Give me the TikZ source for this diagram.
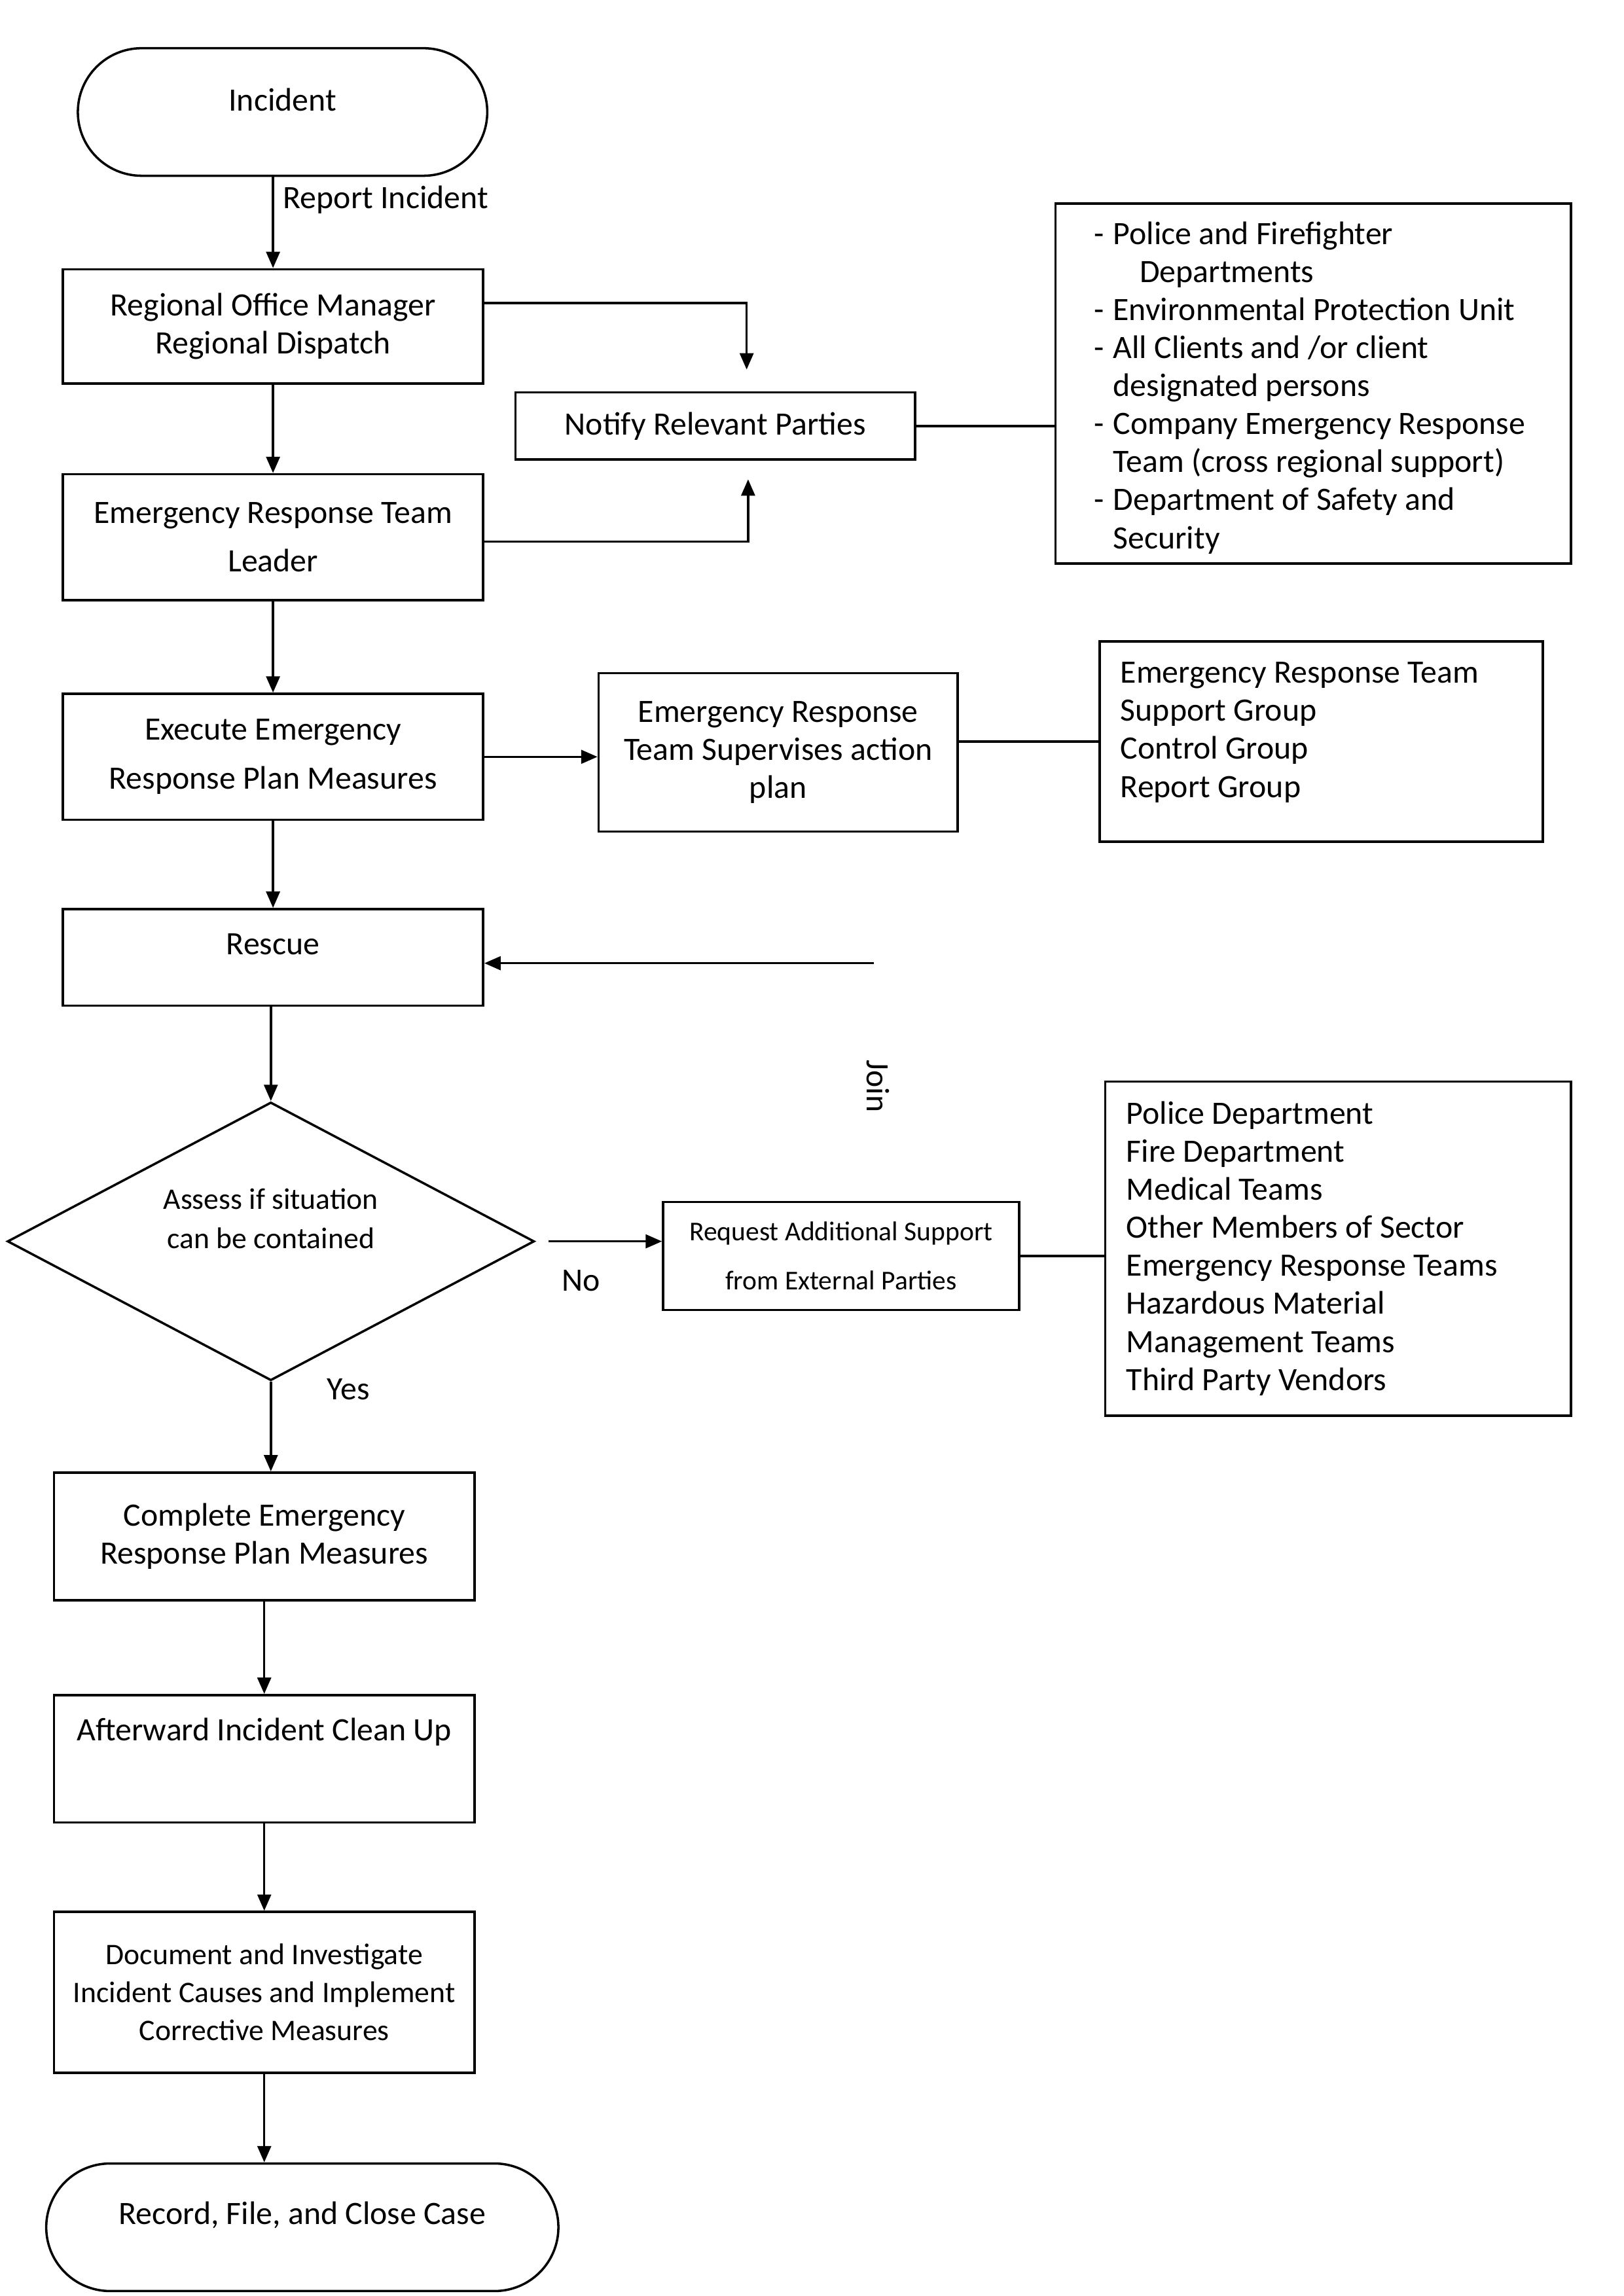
\documentclass[tikz,border=0pt]{standalone}
\usepackage{fontspec}
\setmainfont{Carlito}
\usetikzlibrary{arrows.meta,shapes,positioning,calc}

\newcommand{\dsh}{\makebox[7pt][l]{-}}

\tikzset{
  flow/.style={draw, line width=0.85pt, align=center, inner sep=2pt, font=\fontsize{12}{14}\selectfont},
  mainbox/.style={flow, rectangle, minimum width=5.436cm},
  termbox/.style={flow, rounded rectangle, minimum height=1.65cm},
  listbox/.style={draw, line width=0.85pt, rectangle},
  listtxt/.style={anchor=north west, align=left, inner sep=0pt, font=\fontsize{12}{14}\selectfont},
  lbl/.style={font=\fontsize{12}{14}\selectfont},
  arr/.style={-{Triangle[length=6pt,width=5pt]}, line width=0.85pt},
  link/.style={line width=0.85pt}
}

\begin{document}
\begin{tikzpicture}[x=0.018937cm, y=-0.01894cm]
    \useasboundingbox (0cm,0cm) rectangle (21cm,-29.7cm);

    % Main column
    \node[termbox, minimum width=5.436cm] (inc) at (193,76.5) {};
    \node[lbl] (inctxt) at (193,68) {Incident};
    \node[mainbox, minimum height=1.48cm] (reg) at (186.5,223) {Regional Office Manager\\Regional Dispatch};
    \node[mainbox, minimum height=1.63cm, font=\fontsize{12}{18}\selectfont] (ert) at (186.5,367) {Emergency Response Team\\Leader};
    \node[mainbox, minimum height=1.63cm, font=\fontsize{12}{18}\selectfont] (exe) at (186.5,517) {Execute Emergency\\Response Plan Measures};
    \node[mainbox, minimum height=1.25cm] (res) at (186.5,654) {};
    \node[lbl] (restxt) at (186.5,645) {Rescue};
    \node[diamond, draw, line width=0.85pt, inner sep=0pt, minimum width=6.815cm, minimum height=3.6cm] (dia) at (185,848) {};
    \node[lbl, align=center, font=\fontsize{11}{14.5}\selectfont] (diatxt) at (185,832.5) {Assess if situation\\can be contained};
    \node[mainbox, minimum height=1.65cm] (comp) at (180.5,1049.5) {Complete Emergency\\Response Plan Measures};
    \node[mainbox, minimum height=1.65cm] (cln) at (180.5,1201.5) {};
    \node[lbl] (clntxt) at (180.5,1183) {Afterward Incident Clean Up};
    \node[mainbox, minimum height=2.08cm, font=\fontsize{11}{14}\selectfont] (doc) at (180.5,1361) {Document and Investigate\\Incident Causes and Implement\\Corrective Measures};
    \node[termbox, minimum width=6.765cm] (rec) at (206.5,1521.5) {};
    \node[lbl] (rectxt) at (206.5,1513) {Record, File, and Close Case};

    % Side boxes
    \node[flow, minimum width=5.168cm, minimum height=0.87cm] (not) at (488.5,291) {Notify Relevant Parties};
    \node[listbox, minimum width=6.666cm, minimum height=4.66cm] (pol) at (897,262) {};
    \node[listtxt] (poltxt) at (747,151) {\dsh Police and Firefighter\\
        \hspace*{16.8pt}Departments\\
        \dsh Environmental Protection Unit\\
        \dsh All Clients and /or client\\
        \hspace*{7pt}designated persons\\
        \dsh Company Emergency Response\\
        \hspace*{7pt}Team (cross regional support)\\
        \dsh Department of Safety and\\
        \hspace*{7pt}Security};
    \node[flow, minimum width=4.643cm, minimum height=2.05cm] (sup) at (531.5,514) {Emergency Response\\Team Supervises action\\plan};
    \node[listbox, minimum width=5.734cm, minimum height=2.59cm] (grp) at (902.5,506.5) {};
    \node[listtxt] (grptxt) at (765,452) {Emergency Response Team\\Support Group\\Control Group\\Report Group};
    \node[flow, minimum width=4.603cm, minimum height=1.40cm, font=\fontsize{10}{18}\selectfont] (req) at (574.5,858) {Request Additional Support\\from External Parties};
    \node[listbox, minimum width=6.021cm, minimum height=4.32cm] (ext) at (914,853) {};
    \node[listtxt] (exttxt) at (769,752) {Police Department\\Fire Department\\Medical Teams\\Other Members of Sector\\Emergency Response Teams\\Hazardous Material\\Management Teams\\Third Party Vendors};

    % Main flow arrows
    \draw[arr] (reg.north |- inc.south) -- (reg.north) node[lbl, right, pos=0.25] {Report Incident};
    \draw[arr] (reg) -- (ert);
    \draw[arr] (ert) -- (exe);
    \draw[arr] (exe) -- (res);
    \draw[arr] (dia.north |- res.south) -- (dia.north);
    \draw[arr] (dia.south) -- (dia.south |- comp.north);
    \draw[arr] (comp) -- (cln);
    \draw[arr] (cln) -- (doc);
    \draw[arr] (doc.south) -- (doc.south |- rec.north);

    % Side arrows
    \draw[arr, shorten >=0.28cm] ($(reg.east)+(0,-16)$) -| ($(not.north)+(21.5,0)$);
    \draw[arr, shorten >=0.24cm] ($(ert.east)+(0,3)$) -| ($(not.south)+(22.5,0)$);
    \draw[link] (not.east) -- (not.east -| pol.west);
    \draw[arr] (exe.east) -- (exe.east -| sup.west);
    \draw[link] (grp.west -| sup.east) -- (grp.west);
    \coordinate (joinend) at (597,658);
    \draw[arr] (joinend) -- (joinend -| res.east);
    \node[lbl, rotate=-90] (join) at (600,742) {Join};
    \draw[arr, shorten <=0.17cm] (dia.east) -- (dia.east -| req.west);
    \draw[link] (req.east) -- (req.east -| ext.west);
    \node[lbl] (no) at (397,875) {No};
    \node[lbl] (yes) at (238,949) {Yes};
\end{tikzpicture}
\end{document}
